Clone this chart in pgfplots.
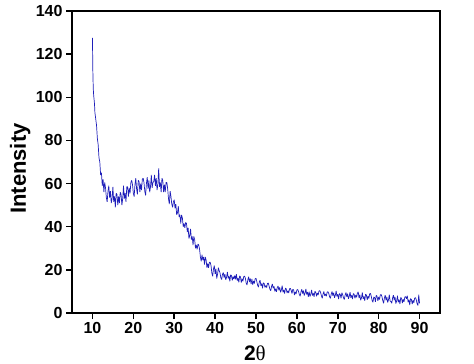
\documentclass[border=0pt]{standalone}
\usepackage{fontspec}
\setmainfont{Liberation Sans}
\newfontfamily\serifgr{Liberation Serif}
\usepackage{pgfplots}
\pgfplotsset{compat=1.18}
\usetikzlibrary{calc}
\definecolor{xrdblue}{RGB}{30,30,185}
\begin{document}
\begin{tikzpicture}
\begin{axis}[
  name=ax,
  scale only axis,
  width=368bp, height=302bp,
  xmin=5, xmax=95, ymin=0, ymax=140,
  xtick={10,20,...,90},
  ytick={0,20,...,140},
  xtick pos=bottom, ytick pos=left,
  tick align=outside,
  major tick length=6bp,
  axis line style={line width=1.5bp},
  every tick/.style={line width=1.5bp, black},
  /pgf/number format/assume math mode=true,
  ticklabel style={font=\bfseries\fontsize{16bp}{18bp}\selectfont},
  xlabel={\fontsize{21bp}{24bp}\selectfont\bfseries 2{\serifgr\mdseries θ}},
  ylabel={\fontsize{22bp}{24bp}\selectfont\bfseries Intensity},
  xlabel style={at={(axis description cs:0.497,-0.132)}, anchor=center},
  ylabel style={at={(axis description cs:-0.141,0.478)}, anchor=center},
]
\addplot[color=xrdblue, line width=0.7bp, line join=bevel] coordinates {
(10.0,127.5)(10.1,112)(10.2,104)(10.3,101)(10.4,99)(10.5,97)(10.6,93)(10.8,90)(11.0,87)(11.2,81)(11.4,78)(11.6,72)(11.8,70)(12.0,64)(12.2,65)(12.4,59)(12.6,62)(12.8,56)
(13.0,60.5)(13.2,58)(13.4,53.5)(13.6,51.5)(13.8,56.5)(14.0,59)(14.2,53.5)(14.4,56.5)(14.6,51)(14.8,53)(15.0,58.5)(15.2,51.5)(15.4,54)(15.6,49)(15.8,55.5)(16.0,55)(16.2,50)(16.4,54)(16.6,51)(16.8,56)
(17.0,55)(17.2,50)(17.4,53)(17.6,59)(17.8,53)(18.0,55.5)(18.2,51.5)(18.4,58.5)(18.6,58.5)(18.8,54)(19.0,58)(19.2,55.5)(19.4,60.5)(19.6,61.5)(19.8,59.5)(20.0,55.5)(20.2,54)(20.4,59.5)(20.6,62.5)(20.8,57.5)
(21.0,55)(21.2,61.5)(21.4,61)(21.6,56)(21.8,60)(22.0,57)(22.2,62)(22.4,62.5)(22.6,60.5)(22.8,56.5)(23.0,54.5)(23.2,60)(23.4,63)(23.6,57.5)(23.8,61.5)(24.0,56)(24.2,58.5)(24.4,64)(24.6,58)(24.8,60.5)
(25.0,61)(25.2,64)(25.4,59)(25.6,62.5)(25.8,57)(26.0,59.5)(26.2,67)(26.4,58.5)(26.6,60.5)(26.8,56)(27.0,62.5)(27.2,61.5)(27.4,56)(27.6,59.5)(27.8,56)(28.0,60.5)(28.2,60.5)(28.4,57.5)(28.6,53)(28.8,50.5)
(29.0,56.5)(29.2,54)(29.4,50.5)(29.6,49)(29.8,51.5)(30.0,52.5)(30.2,48.5)(30.4,50.5)(30.6,45.5)(30.8,46.5)(31.0,49.5)(31.2,44.5)(31.4,45.5)(31.6,41.5)(31.8,45.5)(32.0,44)(32.2,40)(32.4,41.5)(32.6,39.5)(32.8,42)
(33.0,41.5)(33.2,37.5)(33.4,39.5)(33.6,34.5)(33.8,36)(34.0,39)(34.2,34)(34.4,35.5)(34.6,31.5)(34.8,35.5)(35.0,34)(35.2,30)(35.4,31.5)(35.6,29.5)(35.8,32)(36.0,31.5)(36.2,29.5)(36.4,26)(36.6,24)(36.8,27)
(37.0,24.5)(37.2,26)(37.4,22.5)(37.6,26)(37.8,24.5)(38.0,21)(38.2,23)(38.4,21)(38.6,23.5)(38.8,23.5)(39.0,22)(39.2,18.5)(39.4,17)(39.6,20.5)(39.8,22)(40.0,18)(40.2,20.5)(40.4,16)(40.6,18)(40.8,21)
(41.0,19.6)(41.2,18.6)(41.4,16.3)(41.6,15.5)(41.8,17.9)(42.0,18.8)(42.2,16.4)(42.4,18)(42.6,15.4)(42.8,16.6)(43.0,19)(43.2,16)(43.4,17.2)(43.6,14.7)(43.8,17.7)(44.0,17.3)(44.2,15.1)(44.4,16.9)(44.6,15.7)(44.8,17.4)
(45.0,15.6)(45.2,18)(45.4,15)(45.6,16.2)(45.8,14.2)(46.0,17.2)(46.2,16.8)(46.4,14.1)(46.6,15.9)(46.8,14.7)(47.0,16.9)(47.2,17.1)(47.4,16.1)(47.6,13.8)(47.8,13)(48.0,15.4)(48.2,16.8)(48.4,14.4)(48.6,16)(48.8,13.4)
(49.0,15.8)(49.2,13.1)(49.4,14.9)(49.6,13.7)(49.8,15.9)(50.0,16.1)(50.2,14.6)(50.4,12.8)(50.6,12)(50.8,14.4)
(51.0,15.2)(51.2,12.6)(51.4,13.7)(51.6,11.5)(51.8,14)(52.0,13.7)(52.2,11.8)(52.4,12.8)(52.6,11.8)(52.8,13.7)(53.0,13.9)(53.2,12.5)(53.4,11)(53.6,10.3)(53.8,12.3)(54.0,13.5)(54.2,11.5)(54.4,12.4)(54.6,10.1)(54.8,11.2)
(55.0,9.8)(55.2,11.8)(55.4,12.5)(55.6,10.5)(55.8,11.9)(56.0,9.6)(56.2,10.7)(56.4,12.7)(56.6,9.6)(56.8,10.7)(57.0,9)(57.2,11.5)(57.4,11.2)(57.6,9.3)(57.8,10.3)(58.0,9.3)(58.2,11.2)(58.4,11.4)(58.6,10.5)(58.8,9)
(59.0,11)(59.2,10.7)(59.4,8.3)(59.6,9.8)(59.8,8.8)(60.0,10.7)(60.2,10.9)(60.4,10)(60.6,8.5)(60.8,7.8)(61.0,9.8)(61.2,11)(61.4,9)(61.6,10.4)(61.8,8.1)(62.0,9.2)(62.2,11.2)(62.4,8.6)(62.6,9.7)(62.8,7.5)
(63.0,9.9)(63.2,7.6)(63.4,8.7)(63.6,10.7)(63.8,8.1)(64.0,9.2)(64.2,7.5)(64.4,10)(64.6,9.7)(64.8,7.8)(65.0,9.3)(65.2,8.3)(65.4,10.2)(65.6,10.4)(65.8,9.5)(66.0,8)(66.2,6.8)(66.4,8.8)(66.6,10)(66.8,8)
(67.0,8.8)(67.2,7.8)(67.4,9.7)(67.6,9.9)(67.8,9)(68.0,7.5)(68.2,6.8)(68.4,8.8)(68.6,10)(68.8,8)(69.0,9.4)(69.2,7.1)(69.4,8.2)(69.6,10.2)(69.8,7.6)(70.0,8.7)(70.2,6.5)(70.4,9)(70.6,8.7)(70.8,6.8)
(71.0,9.4)(71.2,8.5)(71.4,7)(71.6,6.3)(71.8,8.3)(72.0,9.5)(72.2,7.5)(72.4,8.9)(72.6,6.6)(72.8,7.7)(73.0,9.7)(73.2,7.1)(73.4,8.2)(73.6,6.5)(73.8,9)(74.0,8.7)(74.2,6.8)(74.4,8.3)(74.6,7.3)(74.8,9.2)
(75.0,9.8)(75.2,6.9)(75.4,8.5)(75.6,5.9)(75.8,7.1)(76.0,9.5)(76.2,6.5)(76.4,7.7)(76.6,5.7)(76.8,8.7)(77.0,8.3)(77.2,6.1)(77.4,7.9)(77.6,6.7)(77.8,8.9)(78.0,9.1)(78.2,7.6)(78.4,5.8)(78.6,5)(78.8,7.4)
(79.0,7.2)(79.2,5.2)(79.4,8.2)(79.6,7.8)(79.8,5.6)(80.0,7.4)(80.2,6.2)(80.4,8.4)(80.6,8.6)(80.8,7.6)(81.0,5.8)(81.2,4.5)(81.4,6.9)(81.6,8.3)(81.8,5.9)(82.0,7.5)(82.2,4.9)(82.4,6.1)(82.6,8.5)(82.8,5.5)
(83.0,5.3)(83.2,4.5)(83.4,6.9)(83.6,8.3)(83.8,5.9)(84.0,7.5)(84.2,4.4)(84.4,5.6)(84.6,8)(84.8,5)(85.0,6.2)(85.2,4.2)(85.4,7.2)(85.6,6.8)(85.8,4.6)(86.0,6.4)(86.2,5.2)(86.4,7.4)(86.6,7.6)(86.8,6.6)
(87.0,8)(87.2,5)(87.4,6.2)(87.6,3.7)(87.8,6.7)(88.0,6.3)(88.2,4.1)(88.4,5.9)(88.6,4.7)(88.8,6.9)(89.0,7.1)(89.2,6.1)(89.4,4.3)(89.6,3.5)(89.8,8.5)(90.0,4.5)
};
\end{axis}
\path ($(ax.south west)+(-72bp,-50bp)$) rectangle ($(ax.north east)+(34bp,11bp)$);
\end{tikzpicture}
\end{document}
